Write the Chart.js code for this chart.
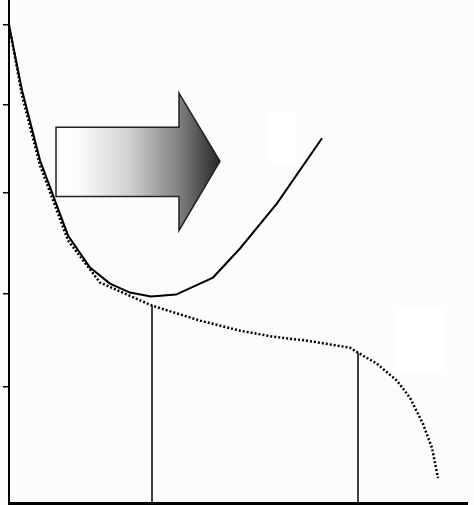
<!DOCTYPE html>
<html>
<head>
<meta charset="utf-8">
<script src="https://cdn.jsdelivr.net/npm/chart.js@4.4.1/dist/chart.umd.min.js"></script>
<style>
  html, body { margin: 0; padding: 0; background: #fcfcfc; }
  #wrap { width: 474px; height: 505px; }
</style>
</head>
<body>
<div id="wrap"><canvas id="chart"></canvas></div>
<script>
// curves (arbitrary units, x 0..458, y 0..502)
const solidX = [0, 13, 31, 59, 81, 101, 121, 142, 167, 204, 231, 268, 313];
const solidY = [477, 412, 342, 267, 235, 219, 210, 206, 208, 225, 254, 299, 364];

const dottedX = [0, 13, 31, 59, 91, 143, 191, 231, 264, 298, 341, 349, 368, 388, 401, 414, 423, 429];
const dottedY = [477, 407, 337, 262, 220, 197, 182, 172, 166, 162, 155, 150, 139, 122, 105, 79, 55, 25];

// vertical drop lines
const dropX = [143, 349];
const dropTop = [197, 150];

const yTicks = [116, 209, 310, 397, 477];

// arrow outline in data units
const arrowBody = { x0: 47, x1: 170, yTop: 375, yBot: 306 };
const arrowHead = { yTop: 409, yBot: 272, tipX: 211, tipY: 341 };

// blank label boxes
const blankBoxes = [
  { x0: 259, x1: 288, y0: 340, y1: 390 },
  { x0: 386, x1: 434, y0: 130, y1: 195 }
];

function toPts(xs, ys) {
  return xs.map((x, i) => ({ x: x, y: ys[i] }));
}

const datasets = [
  {
    data: toPts(solidX, solidY),
    borderColor: '#000',
    borderWidth: 2,
    pointRadius: 0,
    tension: 0
  },
  {
    data: toPts(dottedX, dottedY),
    borderColor: '#000',
    borderWidth: 2.5,
    borderDash: [2, 2],
    pointRadius: 0,
    tension: 0
  }
];

dropX.forEach((x, i) => {
  datasets.push({
    data: [{ x: x, y: 0 }, { x: x, y: dropTop[i] }],
    borderColor: '#000',
    borderWidth: 1.5,
    pointRadius: 0
  });
});

const decorPlugin = {
  id: 'decor',
  beforeDatasetsDraw(chart) {
    const ctx = chart.ctx;
    const xs = chart.scales.x, ys = chart.scales.y;
    ctx.save();
    ctx.fillStyle = '#ffffff';
    blankBoxes.forEach(b => {
      const l = xs.getPixelForValue(b.x0), r = xs.getPixelForValue(b.x1);
      const t = ys.getPixelForValue(b.y1), bt = ys.getPixelForValue(b.y0);
      ctx.fillRect(l, t, r - l, bt - t);
    });
    ctx.restore();
  },
  afterDatasetsDraw(chart) {
    const ctx = chart.ctx;
    const xs = chart.scales.x, ys = chart.scales.y;
    const bx0 = xs.getPixelForValue(arrowBody.x0);
    const bx1 = xs.getPixelForValue(arrowBody.x1);
    const by0 = ys.getPixelForValue(arrowBody.yTop);
    const by1 = ys.getPixelForValue(arrowBody.yBot);
    const hy0 = ys.getPixelForValue(arrowHead.yTop);
    const hy1 = ys.getPixelForValue(arrowHead.yBot);
    const tx = xs.getPixelForValue(arrowHead.tipX);
    const ty = ys.getPixelForValue(arrowHead.tipY);

    const grad = ctx.createLinearGradient(bx0, 0, tx, 0);
    grad.addColorStop(0, '#ffffff');
    grad.addColorStop(0.15, '#fafafa');
    grad.addColorStop(0.45, '#d0d0d0');
    grad.addColorStop(0.75, '#808080');
    grad.addColorStop(1, '#262626');

    ctx.save();
    ctx.beginPath();
    ctx.moveTo(bx0, by0);
    ctx.lineTo(bx1, by0);
    ctx.lineTo(bx1, hy0);
    ctx.lineTo(tx, ty);
    ctx.lineTo(bx1, hy1);
    ctx.lineTo(bx1, by1);
    ctx.lineTo(bx0, by1);
    ctx.closePath();
    ctx.fillStyle = grad;
    ctx.fill();
    ctx.lineWidth = 1.5;
    ctx.strokeStyle = '#222';
    ctx.stroke();
    ctx.restore();
  }
};

new Chart(document.getElementById('chart'), {
  type: 'line',
  data: { datasets: datasets },
  options: {
    responsive: true,
    maintainAspectRatio: false,
    animation: false,
    layout: { padding: { left: 3, right: 7, top: 0, bottom: 2 } },
    plugins: {
      legend: { display: false },
      tooltip: { enabled: false }
    },
    scales: {
      x: {
        type: 'linear',
        min: 0,
        max: 458,
        ticks: { display: false },
        grid: { display: false, drawTicks: false },
        border: { display: true, color: '#000', width: 3 }
      },
      y: {
        type: 'linear',
        min: 0,
        max: 502,
        afterBuildTicks: axis => {
          axis.ticks = yTicks.map(v => ({ value: v }));
        },
        ticks: { display: false },
        grid: {
          drawOnChartArea: false,
          drawTicks: true,
          tickLength: 6,
          color: '#000',
          lineWidth: 1.5
        },
        border: { display: true, color: '#000', width: 2 }
      }
    }
  },
  plugins: [decorPlugin]
});
</script>
</body>
</html>
